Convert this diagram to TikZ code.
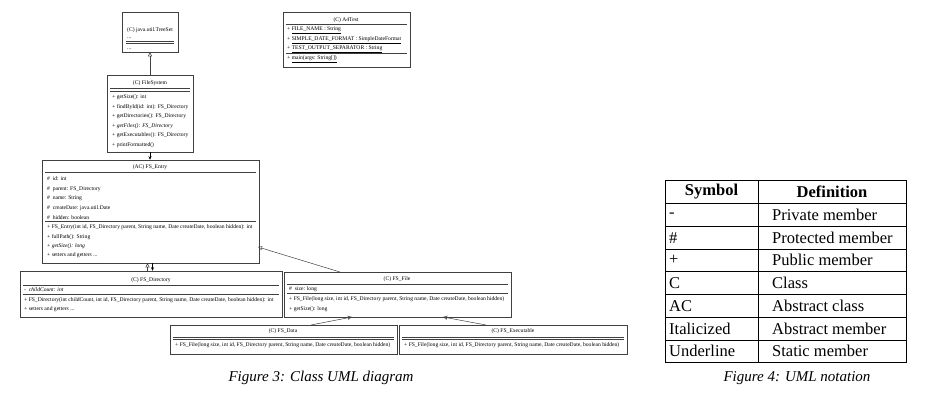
\documentclass[tikz,border=0pt]{standalone}
\usepackage{fontspec}
\setmainfont{Liberation Serif}
\usetikzlibrary{fit,arrows.meta}
\begin{document}
\begin{tikzpicture}[x=1pt,y=-1pt,
  box/.style={draw=black!75,line width=0.5pt,inner sep=0pt},
  rl/.style={draw=black!75,line width=0.4pt},
  t/.style={font=\fontsize{5.6}{6}\selectfont,inner sep=0pt,anchor=west},
  tt/.style={font=\fontsize{5.6}{6}\selectfont,inner sep=0pt},
  gen/.style={draw=black!75,line width=0.5pt,-{Triangle[open,length=4pt,width=4pt]}},
  assoc/.style={draw=black,line width=0.5pt,-{Stealth[length=3.5pt,width=3pt]}},
  cell/.style={font=\fontsize{16.5}{18}\selectfont,inner sep=0pt,anchor=west},
  hd/.style={font=\fontsize{16.5}{18}\selectfont\bfseries,inner sep=0pt},
  figcap/.style={font=\fontsize{15}{17}\selectfont\itshape,inner sep=0pt}]
\useasboundingbox (0,0) rectangle (936,402);
% TreeSet
\node[box,fit={(122,12) (178,52)}] (ts) {};
\node[tt] (tst) at (150,30) {(C) java.util.TreeSet};
\draw[rl] (126,41)--(174,41) (126,43.5)--(174,43.5);
\node[t] (ts1) at (127,38) {...};
\node[t] (ts2) at (127,49) {...};
% A4Test
\node[box,fit={(283,12) (410,67)}] (a4) {};
\node[tt] (a4t) at (346,20) {(C) A4Test};
\draw[rl] (286,24)--(407,24) (286,53)--(407,53);
\node[t] (a41) at (287,30) {+ \underline{FILE\_NAME : String}};
\node[t] (a42) at (287,40) {+ \underline{SIMPLE\_DATE\_FORMAT : SimpleDateFormat}};
\node[t] (a43) at (287,49) {+ \underline{TEST\_OUTPUT\_SEPARATOR : String}};
\node[t] (a44) at (287,59.5) {+ \underline{main(args: String[])}};
% FileSystem
\node[box,fit={(107,75) (193,152)}] (fs) {};
\node[tt] (fst) at (150,83) {(C) FileSystem};
\draw[rl] (110,88)--(190,88) (110,91)--(190,91);
\node[t] (fs1) at (112,97) {+ getSize(): int};
\node[t] (fs2) at (112,107) {+ findById(id: int): FS\_Directory};
\node[t] (fs3) at (112,116.5) {+ getDirectories(): FS\_Directory};
\node[t] (fs4) at (112,126) {+ \textit{getFiles(): FS\_Directory}};
\node[t] (fs5) at (112,135.5) {+ getExecutables(): FS\_Directory};
\node[t] (fs6) at (112,145) {+ printFormatted()};
% FS_Entry
\node[box,fit={(42,160) (259,263)}] (fe) {};
\node[tt] (fet) at (150,167.5) {(AC) FS\_Entry};
\draw[rl] (45,172)--(256,172) (45,221)--(256,221);
\node[t] (fe1) at (47,179) {\#\ \ id: int};
\node[t] (fe2) at (47,189) {\#\ \ parent: FS\_Directory};
\node[t] (fe3) at (47,198.5) {\#\ \ name: String};
\node[t] (fe4) at (47,208.5) {\#\ \ createDate: java.util.Date};
\node[t] (fe5) at (47,218) {\#\ \ hidden: boolean};
\node[t] (fe6) at (47,227.5) {+ FS\_Entry(int id, FS\_Directory parent, String name, Date createDate, boolean hidden): int};
\node[t] (fe7) at (47,237) {+ fullPath(): String};
\node[t] (fe8) at (47,246) {+ \textit{getSize(): long}};
\node[t] (fe9) at (47,255.5) {+ setters and getters ...};
% FS_Directory
\node[box,fit={(20,271) (282,317)}] (fd) {};
\node[tt] (fdt) at (151,280.5) {(C) FS\_Directory};
\draw[rl] (23,285)--(279,285) (23,294)--(279,294);
\node[t] (fd1) at (24,290) {-\ \ \textit{childCount: int}};
\node[t] (fd2) at (24,300.5) {+ FS\_Directory(int childCount, int id, FS\_Directory parent, String name, Date createDate, boolean hidden): int};
\node[t] (fd3) at (24,309.5) {+ setters and getters ...};
% FS_File
\node[box,fit={(284,272) (511,317)}] (ff) {};
\node[tt] (fft) at (397,279.5) {(C) FS\_File};
\draw[rl] (287,284)--(508,284) (287,293)--(508,293);
\node[t] (ff1) at (289,289) {\#\ \ size: long};
\node[t] (ff2) at (289,299.5) {+ FS\_File(long size, int id, FS\_Directory parent, String name, Date createDate, boolean hidden)};
\node[t] (ff3) at (289,309.5) {+ getSize(): long};
% FS_Data
\node[box,fit={(170,325) (397,354)}] (da) {};
\node[tt] (dat) at (283,331.5) {(C) FS\_Data};
\draw[rl] (173,337)--(394,337) (173,339.5)--(394,339.5);
\node[t] (da1) at (175,345.5) {+ FS\_File(long size, int id, FS\_Directory parent, String name, Date createDate, boolean hidden)};
% FS_Executable
\node[box,fit={(399,325) (627,354)}] (ex) {};
\node[tt] (ext) at (513,331.5) {(C) FS\_Executable};
\draw[rl] (402,337)--(624,337) (402,339.5)--(624,339.5);
\node[t] (ex1) at (404,345.5) {+ FS\_File(long size, int id, FS\_Directory parent, String name, Date createDate, boolean hidden)};
% connectors
\draw[gen] (fs.north -| ts.south) -- (ts.south);
\draw[assoc] (fs.south) -- (fe.north -| fs.south);
\draw[gen] ([xshift=-2.5pt]fd.north -| fs.south) -- ([xshift=-2.5pt]fe.south -| fs.south);
\draw[assoc] ([xshift=2.5pt]fe.south -| fs.south) -- ([xshift=2.5pt]fd.north -| fs.south);
\coordinate (c1) at (340,272);
\coordinate (c2) at (258,247);
\draw[gen] (c1) -- (c2);
\coordinate (c3) at (311,325);
\coordinate (c4) at (352,317);
\draw[gen] (c3) -- (c4);
\coordinate (c5) at (486,325);
\coordinate (c6) at (443,317);
\draw[gen] (c5) -- (c6);
% caption 3
\node[figcap] (cap3) at (321,378) {Figure 3: Class UML diagram};
% table
\draw[line width=0.6pt] (665,180) rectangle (906,362);
\draw[line width=0.6pt] (758,180)--(758,362);
\foreach \yy in {203,226,249,271,294,317,340}{\draw[line width=0.6pt] (665,\yy)--(906,\yy);}
\node[hd] (h1) at (711.5,192) {Symbol};
\node[hd] (h2) at (832,192) {Definition};
\node[cell] (s1) at (669,215) {-};
\node[cell] (s2) at (669,238) {\#};
\node[cell] (s3) at (669,260) {+};
\node[cell] (s4) at (669,283) {C};
\node[cell] (s5) at (669,306) {AC};
\node[cell] (s6) at (669,329) {Italicized};
\node[cell] (s7) at (669,351) {Underline};
\node[cell] (d1) at (772,215) {Private member};
\node[cell] (d2) at (772,238) {Protected member};
\node[cell] (d3) at (772,260) {Public member};
\node[cell] (d4) at (772,283) {Class};
\node[cell] (d5) at (772,306) {Abstract class};
\node[cell] (d6) at (772,329) {Abstract member};
\node[cell] (d7) at (772,351) {Static member};
\node[figcap] (cap4) at (797,378) {Figure 4: UML notation};
\end{tikzpicture}
\end{document}
